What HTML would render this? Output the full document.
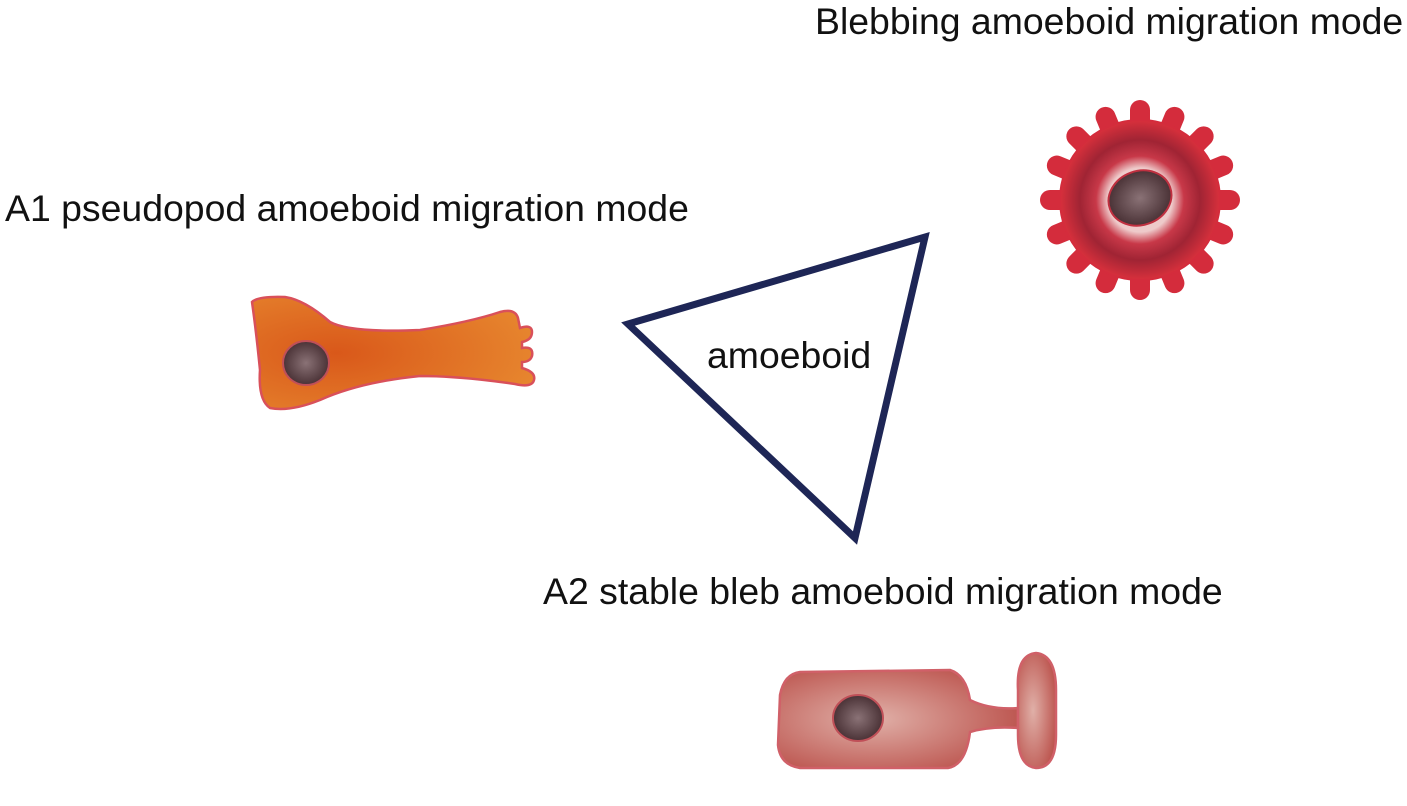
<!DOCTYPE html>
<html><head><style>
body{margin:0;background:#fff;}
svg{display:block}
text{font-family:"Liberation Sans",Arial,sans-serif;font-size:37.4px;fill:#111}
</style></head><body>
<svg width="1407" height="806" viewBox="0 0 1407 806">
<defs>
<radialGradient id="og" cx="0.3" cy="0.5" r="0.8"><stop offset="0" stop-color="#d9581a"/><stop offset="1" stop-color="#e88a30"/></radialGradient>
<radialGradient id="rg" cx="0.5" cy="0.5" r="0.5"><stop offset="0.4" stop-color="#eecaca"/><stop offset="0.55" stop-color="#c83848"/><stop offset="0.75" stop-color="#a02434"/><stop offset="1" stop-color="#d8303c"/></radialGradient>
<radialGradient id="ng" cx="0.5" cy="0.5" r="0.5"><stop offset="0" stop-color="#8a7276"/><stop offset="1" stop-color="#4a3236"/></radialGradient>
<radialGradient id="bg" cx="0.4" cy="0.5" r="0.7"><stop offset="0" stop-color="#e0b0a8"/><stop offset="1" stop-color="#b84a44"/></radialGradient>
</defs>
<text x="815" y="34">Blebbing amoeboid migration mode</text>
<text x="5" y="221">A1 pseudopod amoeboid migration mode</text>
<text x="707" y="368">amoeboid</text>
<text x="543" y="604">A2 stable bleb amoeboid migration mode</text>
<polygon points="628,324 925,237 855,538" fill="none" stroke="#1e2656" stroke-width="7" stroke-linejoin="miter"/>
<!-- A1 cell -->
<path d="M252,302 Q258,296 285,297 Q305,300 330,322 Q350,333 420,330 Q470,322 500,312 Q515,308 518,318 L520,328 Q532,324 532,332 Q532,340 522,342 L522,348 Q534,346 532,356 Q530,362 522,362 L522,368 Q536,372 534,380 Q532,388 515,384 Q460,376 420,376 Q360,382 320,400 Q290,412 270,408 Q258,400 260,370 Q256,330 252,302 Z" fill="url(#og)" stroke="#d9505a" stroke-width="2.5"/>
<ellipse cx="306" cy="363" rx="23" ry="22" fill="url(#ng)" stroke="#c05058" stroke-width="2"/>
<!-- Blebbing cell -->
<g stroke="#d42c3c" stroke-width="20" stroke-linecap="round">
<g id="fing"><line x1="1140" y1="140" x2="1140" y2="110"/></g>
<use href="#fing" transform="rotate(22.5 1140 200)"/><use href="#fing" transform="rotate(45 1140 200)"/><use href="#fing" transform="rotate(67.5 1140 200)"/>
<use href="#fing" transform="rotate(90 1140 200)"/><use href="#fing" transform="rotate(112.5 1140 200)"/><use href="#fing" transform="rotate(135 1140 200)"/><use href="#fing" transform="rotate(157.5 1140 200)"/>
<use href="#fing" transform="rotate(180 1140 200)"/><use href="#fing" transform="rotate(202.5 1140 200)"/><use href="#fing" transform="rotate(225 1140 200)"/><use href="#fing" transform="rotate(247.5 1140 200)"/>
<use href="#fing" transform="rotate(270 1140 200)"/><use href="#fing" transform="rotate(292.5 1140 200)"/><use href="#fing" transform="rotate(315 1140 200)"/><use href="#fing" transform="rotate(337.5 1140 200)"/>
</g>
<circle cx="1140" cy="200" r="80" fill="url(#rg)" stroke="#d42c3c" stroke-width="2"/>
<ellipse cx="1140" cy="198" rx="32" ry="27" transform="rotate(-20 1140 198)" fill="url(#ng)" stroke="#c03040" stroke-width="2"/>
<!-- A2 cell -->
<path d="M800,672 L950,670 Q966,675 970,700 Q990,710 1018,708 L1018,728 Q990,726 970,732 Q966,765 948,768 L800,768 Q780,765 778,745 L780,695 Q784,674 800,672 Z" fill="url(#bg)" stroke="#d06068" stroke-width="2.5"/>
<path d="M1018,690 Q1016,655 1036,653 Q1056,655 1056,690 L1056,735 Q1056,768 1036,768 Q1018,766 1018,735 Z" fill="url(#bg)" stroke="#d06068" stroke-width="2.5"/>
<ellipse cx="858" cy="718" rx="25" ry="23" fill="url(#ng)" stroke="#c05058" stroke-width="2"/>
</svg>
</body></html>
